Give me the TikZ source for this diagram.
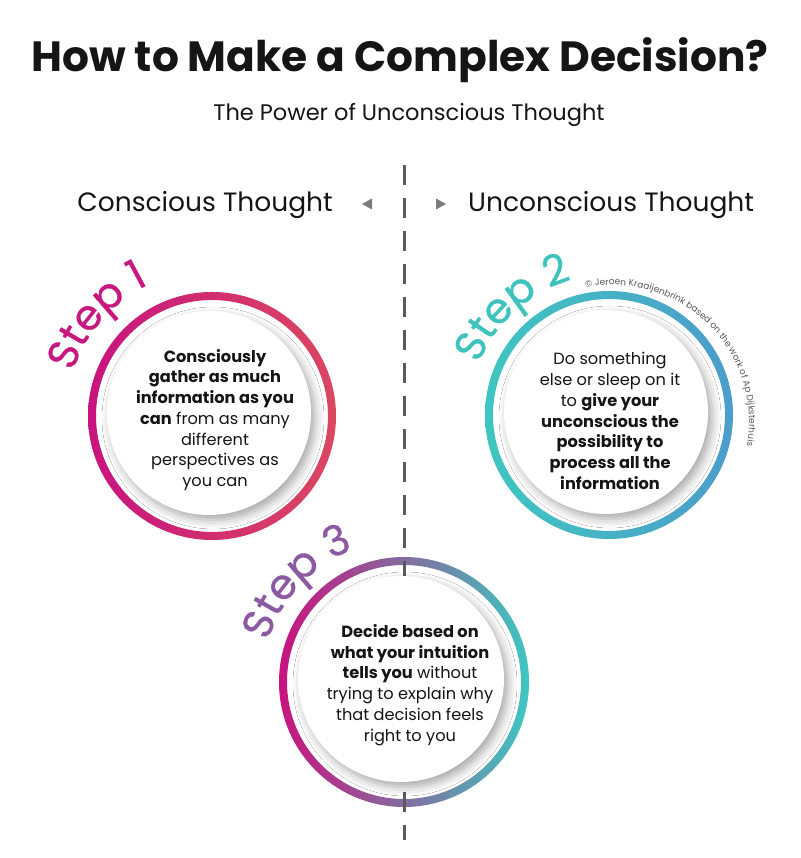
\documentclass[tikz,border=0pt]{standalone}
\usepackage{fontspec}
\setmainfont{Poppins}
\newfontfamily\stepfam[FakeBold=0.7]{Poppins}
\usetikzlibrary{decorations.text,shadows.blur}
\definecolor{magA}{HTML}{C8137F}
\definecolor{magB}{HTML}{DA4860}
\definecolor{tealA}{HTML}{3FC6C0}
\definecolor{blueB}{HTML}{4C9DCB}
\definecolor{purpM}{HTML}{8A55A2}
\definecolor{lab1}{HTML}{C8187F}
\definecolor{lab2}{HTML}{3EC2BD}
\definecolor{lab3}{HTML}{8C59A3}
\definecolor{dgray}{HTML}{5A5A5A}
\definecolor{txt}{HTML}{151515}
\newcommand{\steplabelfont}{\stepfam\fontsize{42}{42}\selectfont}
\newcommand{\copyfont}{\fontsize{9}{9}\selectfont}
\tikzset{
  ttl/.style={font=\fontsize{42.3}{48}\selectfont\bfseries, text=txt, inner sep=0},
  subttl/.style={font=\fontsize{22.5}{26}\selectfont, text=txt, inner sep=0},
  hdr/.style={font=\fontsize{26.5}{30}\selectfont, text=txt, inner sep=0},
  body/.style={font=\fontsize{16.2}{20.7}\selectfont, text=txt, align=center, inner sep=0},
  divider/.style={draw=dgray, line width=3pt, dash pattern=on 20pt off 13pt},
  disc/.style={fill=white, blur shadow={shadow xshift=4pt, shadow yshift=-5pt, shadow blur radius=9pt, shadow opacity=35}},
  tri/.style={fill=dgray!80}
}
\begin{document}
\begin{tikzpicture}[x=1pt,y=1pt]
\useasboundingbox[fill=white] (0,0) rectangle (800,858);
% titles
\node[ttl, anchor=base] (title) at (400,786) {How to Make a Complex Decision?};
\node[subttl, anchor=base] (subtitle) at (409,737) {The Power of Unconscious Thought};
\node[hdr, anchor=base east] (cons) at (333,646) {Conscious Thought};
\node[hdr, anchor=base west] (uncons) at (468,646) {Unconscious Thought};
\fill[tri] (362,654) -- (372,659.5) -- (372,648.5) -- cycle;
\fill[tri] (446,654) -- (436,659.5) -- (436,648.5) -- cycle;
% centres
\coordinate (c1) at (212,442);
\coordinate (c2) at (609,443);
\coordinate (c3) at (404,176);
\coordinate (d1) at (209,445);
\coordinate (d2) at (606,446);
\coordinate (d3) at (401,179);
% rings
\shade[left color=magA, right color=magB, even odd rule] (c1) circle (124) (c1) circle (116);
\shade[left color=tealA, right color=blueB, even odd rule] (c2) circle (124) (c2) circle (116);
\shade[left color=magA, middle color=purpM, right color=tealA, even odd rule] (c3) circle (125) (c3) circle (117);
% divider
\coordinate (dtop) at (404,693);
\coordinate (dbot) at (404,18);
\draw[divider] (dtop) -- (dbot);
% discs
\fill[disc] (d1) circle (102);
\fill[disc] (d2) circle (102);
\fill[disc] (d3) circle (103);
% step labels
\path[decorate, decoration={text along path, text={|\steplabelfont|Step 1}, text align=center, text color=lab1}]
  (c1) ++(170:146) arc (170:108:146);
\path[decorate, decoration={text along path, text={|\steplabelfont|Step 2}, text align=center, text color=lab2}]
  (c2) ++(163:140) arc (163:101:140);
\path[decorate, decoration={text along path, text={|\steplabelfont|Step 3}, text align=center, text color=lab3}]
  (c3) ++(168:142) arc (168:106:142);
% copyright
\path[decorate, decoration={text along path, text={|\copyfont|© Jeroen Kraaijenbrink based on the work of Ap Dijksterhuis}, text align=center, text color=dgray}]
  (612,436) ++(105:137) arc (105:-14:137);
% body texts
\node[body] (t1) at (215,438) {\textbf{Consciously}\\\textbf{gather as much}\\\textbf{information as you}\\\textbf{can} from as many\\different\\perspectives as\\you can};
\node[body] (t2) at (610,437) {Do something\\else or sleep on it\\to \textbf{give your}\\\textbf{unconscious the}\\\textbf{possibility to}\\\textbf{process all the}\\\textbf{information}};
\node[body] (t3) at (410,173) {\textbf{Decide based on}\\\textbf{what your intuition}\\\textbf{tells you} without\\trying to explain why\\that decision feels\\right to you};
\end{tikzpicture}
\end{document}
